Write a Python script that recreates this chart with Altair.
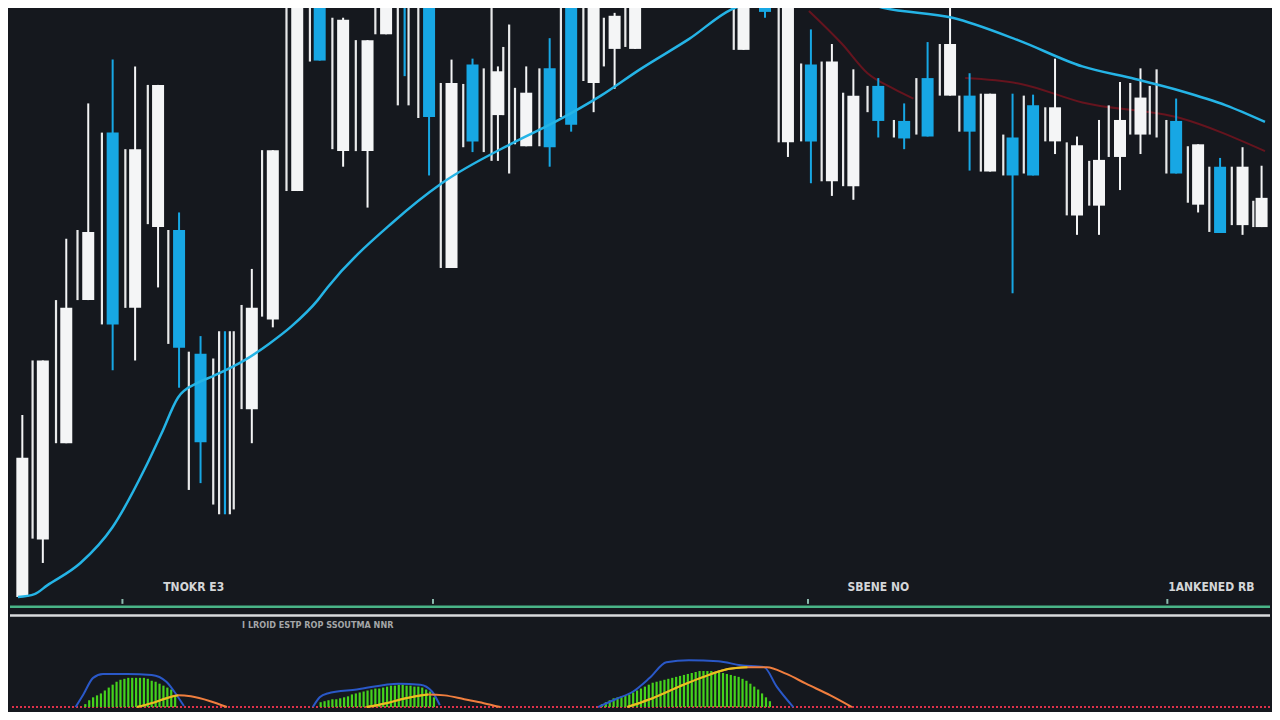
import altair as alt
import pandas as pd

# ---------------- price panel data ----------------
candle_t = [7.5, 28.5, 52.5, 75, 100, 123, 146.5, 168, 190, 242.5, 264, 289, 312, 336, 361, 380,
            424, 447, 468.5, 494.5, 523.5, 547.5, 569.5, 592.5, 614, 635, 746, 768, 791.5, 815,
            836.5, 858.5, 884, 910.5, 934.5, 957.5, 977.5, 998.5, 1021.5, 1042.5, 1065, 1087.5,
            1110, 1131.5, 1152.5, 1189, 1211.5, 1234, 1257, 1276.5]
candle_open = [39.5, 45.4, 55.3, 70.0, 87.2, 69.2, 77.5, 77.2, 64.5, 58.8, 68.0, 81.2, 101.0, 85.3,
               85.3, 97.3, 101.0, 73.3, 94.2, 89.0, 85.8, 93.8, 101.0, 92.3, 95.8, 95.8, 95.7, 101.0,
               86.2, 94.2, 82.2, 81.7, 92.0, 88.4, 92.8, 91.0, 91.0, 83.2, 86.7, 90.0, 86.3, 78.7,
               79.7, 84.7, 87.0, 88.4, 79.8, 83.7, 77.7, 77.5]
candle_close = [53.8, 63.8, 69.2, 77.0, 67.5, 85.5, 92.1, 65.1, 55.4, 69.2, 85.4, 101.0, 94.6, 98.8,
                96.7, 101.0, 88.8, 92.3, 86.3, 93.5, 91.3, 85.7, 88.0, 101.0, 99.2, 101.0, 101.0, 99.6,
                101.0, 86.3, 94.5, 91.0, 88.4, 86.6, 86.8, 96.3, 87.3, 91.2, 82.8, 82.8, 89.8, 85.9,
                84.4, 88.5, 90.8, 83.0, 86.0, 76.9, 83.7, 80.5]
candle_high = [58.2, 63.8, 76.3, 90.2, 94.7, 94.0, 92.1, 79.0, 66.3, 73.2, 85.4, 101.5, 101.5, 99.0,
               96.7, 101.5, 101.5, 94.7, 94.8, 94.0, 94.0, 96.9, 101.5, 101.5, 99.5, 101.5, 101.5,
               101.5, 101.5, 97.8, 96.3, 93.7, 92.8, 90.2, 96.5, 101.5, 93.3, 91.2, 91.2, 91.1, 94.8,
               86.8, 88.5, 92.4, 93.8, 90.7, 86.0, 84.6, 85.7, 83.8]
candle_low = [39.5, 43.0, 55.3, 70.0, 62.8, 63.8, 71.3, 61.0, 51.2, 55.3, 67.2, 81.2, 94.6, 83.7,
              79.5, 97.3, 82.8, 73.3, 85.2, 84.3, 85.8, 83.7, 87.3, 89.3, 91.7, 95.8, 95.7, 99.0,
              84.7, 82.0, 80.7, 80.3, 86.7, 85.5, 86.8, 91.0, 83.3, 83.2, 70.7, 82.8, 85.0, 76.7,
              76.7, 81.3, 85.0, 83.0, 79.0, 76.9, 76.7, 77.5]

# thin side strokes next to the candles
shadow_t = [18, 42, 64, 89, 113, 136, 157, 178, 203, 209, 215, 220, 224, 232, 253, 278, 302, 325,
            349, 369, 392, 399, 403, 413, 436, 459, 480, 488, 500, 506, 512, 537, 559, 582, 603,
            625, 736, 782, 805, 826, 848, 873, 900, 923, 947, 967, 989, 1012, 1033, 1055, 1077,
            1100, 1120, 1142, 1162, 1169, 1179, 1201, 1223, 1246, 1268]
shadow_top = [63.8, 70.0, 77.2, 87.2, 85.5, 92.1, 77.2, 64.7, 64.0, 66.8, 66.8, 66.8, 66.8, 69.5,
              85.4, 101.0, 101.0, 99.0, 96.7, 101.0, 101.0, 101.0, 101.0, 101.0, 92.3, 92.2, 93.8,
              101.0, 96.0, 98.3, 91.8, 93.8, 101.0, 101.0, 99.0, 101.0, 101.0, 101.0, 94.3, 94.5,
              91.3, 92.0, 88.5, 92.8, 96.3, 91.0, 91.2, 87.0, 91.0, 89.8, 86.2, 84.3, 90.0, 92.3,
              92.0, 93.7, 88.5, 85.8, 83.7, 83.7, 80.2]
shadow_bot = [45.5, 55.3, 70.0, 67.5, 69.2, 77.8, 65.5, 50.5, 49.0, 48.0, 48.0, 48.0, 48.5, 58.8,
              68.3, 81.2, 94.5, 85.5, 85.3, 97.3, 90.0, 93.0, 90.0, 88.7, 73.3, 85.7, 85.2, 84.3,
              89.0, 83.0, 86.0, 85.8, 88.8, 92.5, 94.0, 96.0, 95.7, 86.2, 86.3, 82.2, 81.7, 89.3,
              86.7, 87.0, 91.0, 87.3, 83.2, 82.8, 83.0, 86.3, 78.7, 79.7, 84.7, 87.0, 87.0, 86.7,
              83.0, 80.0, 77.0, 77.7, 77.5]
shadow_kind = ["white"] * 10 + ["blue"] + ["white"] * 10 + ["blue"] + ["white"] * 39

# moving averages
ma_t = [3, 20, 33, 67, 100, 133, 150, 167, 187, 203, 233, 260, 283, 310, 320, 387, 437, 507, 553,
        600, 640, 690, 737, 780, 825, 860, 890, 960, 1027, 1093, 1147, 1193, 1240, 1280]
ma_v = [39.5, 39.8, 40.7, 43.0, 46.7, 52.7, 56.3, 60.0, 61.5, 62.2, 63.7, 65.5, 67.3, 70.0, 71.3,
        78.0, 82.0, 86.0, 88.3, 91.0, 93.7, 96.8, 100.0, 100.8, 101.4, 100.8, 100.0, 99.0, 96.7,
        94.0, 92.7, 91.5, 90.0, 88.3]
slow_t = [813, 847, 873, 900, 920, 973, 1030, 1093, 1193, 1280]
slow_v = [99.7, 96.3, 93.3, 91.7, 90.7, 92.8, 92.2, 90.3, 88.7, 85.3]
slow_seg = ["a", "a", "a", "a", "a", "b", "b", "b", "b", "b"]

# separators, ticks, labels
green_level = [38.5]
white_level = [37.6]
tick_t = [110, 428, 812, 1180]
label_t = [183, 884, 1225]
label_text = ["TNOKR E3", "SBENE NO", "1ANKENED RB"]
sub_t = [310]
sub_text = ["I LROID ESTP ROP SSOUTMA NNR"]

# ---------------- oscillator panel data ----------------
hist_t = list(range(72, 165, 4)) + list(range(313, 430, 4)) + list(range(601, 774, 4))
hist_v = [0.06, 0.14, 0.20, 0.24, 0.28, 0.34, 0.40, 0.46, 0.52, 0.56, 0.58, 0.60, 0.60, 0.60, 0.60,
          0.60, 0.58, 0.54, 0.52, 0.48, 0.44, 0.40, 0.36, 0.22,
          0.10, 0.12, 0.14, 0.16, 0.16, 0.18, 0.20, 0.22, 0.26, 0.28, 0.30, 0.32, 0.34, 0.36, 0.38,
          0.38, 0.40, 0.42, 0.44, 0.44, 0.46, 0.46, 0.44, 0.44, 0.42, 0.42, 0.40, 0.36, 0.32, 0.20,
          0.06, 0.10, 0.14, 0.18, 0.20, 0.22, 0.24, 0.26, 0.30, 0.34, 0.38, 0.42, 0.46, 0.50, 0.52,
          0.54, 0.56, 0.58, 0.60, 0.62, 0.64, 0.66, 0.68, 0.70, 0.72, 0.74, 0.74, 0.74, 0.74, 0.72,
          0.72, 0.70, 0.68, 0.66, 0.64, 0.62, 0.58, 0.54, 0.48, 0.42, 0.36, 0.28, 0.20, 0.12]

macd_t = [62, 70, 80, 90, 115, 140, 155, 163, 173,
          305, 312, 320, 350, 393, 415, 427, 435,
          597, 615, 633, 650, 667, 690, 720, 743, 767, 780, 797]
macd_v = [0.0, 0.26, 0.60, 0.68, 0.68, 0.66, 0.52, 0.32, 0.02,
          0.0, 0.20, 0.28, 0.36, 0.48, 0.46, 0.32, 0.04,
          0.0, 0.16, 0.32, 0.60, 0.92, 0.96, 0.94, 0.86, 0.82, 0.42, 0.0]
macd_hump = [1] * 9 + [2] * 8 + [3] * 11

sig_t = [125, 140, 155, 167, 180, 200, 217,
         360, 380, 400, 423, 440, 460, 480, 497,
         627, 650, 680, 705, 730, 750, 770, 790, 810, 835, 857]
sig_v = [0.0, 0.08, 0.18, 0.24, 0.22, 0.12, 0.0,
         0.0, 0.08, 0.18, 0.26, 0.24, 0.16, 0.08, 0.0,
         0.0, 0.16, 0.42, 0.62, 0.78, 0.82, 0.82, 0.68, 0.48, 0.24, 0.0]
sig_hump = [1] * 7 + [2] * 8 + [3] * 11
# rising legs of the signal line (drawn yellow where they cross the histogram)
sig_rise = [True, True, True, True, False, False, False,
            True, True, True, True, False, False, False, False,
            True, True, True, True, True, True, False, False, False, False, False]

# ---------------- frames ----------------
candles = pd.DataFrame({"t": candle_t, "open": candle_open, "close": candle_close,
                        "high": candle_high, "low": candle_low})
shadows = pd.DataFrame({"t": shadow_t, "top": shadow_top, "bot": shadow_bot, "kind": shadow_kind})
ma = pd.DataFrame({"t": ma_t, "v": ma_v})
slow = pd.DataFrame({"t": slow_t, "v": slow_v, "seg": slow_seg})
ticks = pd.DataFrame({"t": tick_t, "a": [39.3] * len(tick_t), "b": [38.8] * len(tick_t)})
labels = pd.DataFrame({"t": label_t, "v": [40.5] * len(label_t), "text": label_text})
subs = pd.DataFrame({"t": sub_t, "v": [36.6], "text": sub_text})
hist = pd.DataFrame({"t": hist_t, "v": hist_v})
macd = pd.DataFrame({"t": macd_t, "v": macd_v, "hump": macd_hump})
sig = pd.DataFrame({"t": sig_t, "v": sig_v, "hump": sig_hump, "rise": sig_rise})
zero = pd.DataFrame({"v": [0.0]})

BG = "#15181e"
WHITE = "#f4f5f6"
BLUE = "#17a7e4"
MA_BLUE = "#25b4e6"
FONT = "DejaVu Sans Condensed"

xs = alt.Scale(domain=[0, 1280], nice=False, zero=False)
yp = alt.Scale(domain=[28, 100], nice=False, zero=False)
ym = alt.Scale(domain=[-0.04, 14.36], nice=False, zero=False)
X = alt.X("t:Q", scale=xs, axis=None)
body_color = alt.condition("datum.open > datum.close", alt.value(BLUE), alt.value(WHITE))

slow_line = alt.Chart(slow).mark_line(color="#65141e", strokeWidth=2, interpolate="monotone", clip=True).encode(
    x=X, y=alt.Y("v:Q", scale=yp, axis=None), detail="seg:N")
shadow_white = alt.Chart(shadows).transform_filter("datum.kind == 'white'").mark_rule(
    strokeWidth=2.2, clip=True, color="#e8e9ea").encode(
    x=X, y=alt.Y("bot:Q", scale=yp, axis=None), y2="top:Q")
shadow_blue = alt.Chart(shadows).transform_filter("datum.kind == 'blue'").mark_rule(
    strokeWidth=2.2, clip=True, color=BLUE).encode(
    x=X, y=alt.Y("bot:Q", scale=yp, axis=None), y2="top:Q")
wicks = alt.Chart(candles).mark_rule(strokeWidth=2, clip=True).encode(
    x=X, y=alt.Y("low:Q", scale=yp, axis=None), y2="high:Q", color=body_color)
bodies = alt.Chart(candles).mark_bar(size=12, clip=True, cornerRadius=0).encode(
    x=X, y=alt.Y("open:Q", scale=yp, axis=None), y2="close:Q", color=body_color)
ma_line = alt.Chart(ma).mark_line(color=MA_BLUE, strokeWidth=2.5, interpolate="monotone", clip=True).encode(
    x=X, y=alt.Y("v:Q", scale=yp, axis=None))
green_sep = alt.Chart(pd.DataFrame({"v": green_level})).mark_rule(strokeWidth=2.5, color="#49b487").encode(
    y=alt.Y("v:Q", scale=yp, axis=None))
white_sep = alt.Chart(pd.DataFrame({"v": white_level})).mark_rule(strokeWidth=2.5, color="#d8dadc").encode(
    y=alt.Y("v:Q", scale=yp, axis=None))
tick_layer = alt.Chart(ticks).mark_rule(strokeWidth=2, color="#8cbcae").encode(
    x=X, y=alt.Y("a:Q", scale=yp, axis=None), y2="b:Q")
label_layer = alt.Chart(labels).mark_text(font=FONT, fontSize=12, fontWeight="bold",
                                          color="#d4d6d8", baseline="middle", align="center").encode(
    x=X, y=alt.Y("v:Q", scale=yp, axis=None), text="text:N")
sub_layer = alt.Chart(subs).mark_text(font=FONT, fontSize=9, fontWeight="bold",
                                      color="#a4a6a8", baseline="middle", align="center").encode(
    x=X, y=alt.Y("v:Q", scale=yp, axis=None), text="text:N")

price = alt.layer(slow_line, shadow_white, shadow_blue, wicks, bodies, ma_line, green_sep, white_sep,
                  tick_layer, label_layer, sub_layer)

zero_line = alt.Chart(zero).mark_rule(color="#e0304a", strokeWidth=2, strokeDash=[2, 2]).encode(
    y=alt.Y("v:Q", scale=ym, axis=None))
hist_layer = alt.Chart(hist).mark_bar(size=2.2, color="#45d21c").encode(
    x=X, y=alt.Y("v:Q", scale=ym, axis=None), y2=alt.datum(0))
macd_layer = alt.Chart(macd).mark_line(color="#2a58c8", strokeWidth=2, interpolate="monotone").encode(
    x=X, y=alt.Y("v:Q", scale=ym, axis=None), detail="hump:N")
sig_layer = alt.Chart(sig).mark_line(color="#f07e3e", strokeWidth=2, interpolate="monotone").encode(
    x=X, y=alt.Y("v:Q", scale=ym, axis=None), detail="hump:N")
sig_rise_layer = alt.Chart(sig).transform_filter("datum.rise").mark_line(
    color="#e8c21e", strokeWidth=2, interpolate="monotone").encode(
    x=X, y=alt.Y("v:Q", scale=ym, axis=None), detail="hump:N")

osc = alt.layer(zero_line, hist_layer, macd_layer, sig_layer, sig_rise_layer)

chart = alt.layer(price, osc).resolve_scale(y="independent").properties(
    width=1264, height=704, padding=0, background=BG,
    autosize=alt.AutoSizeParams(type="fit", contains="padding"),
).configure_view(stroke=None)

chart.save("out.html", embed_options={"renderer": "svg", "actions": False})
